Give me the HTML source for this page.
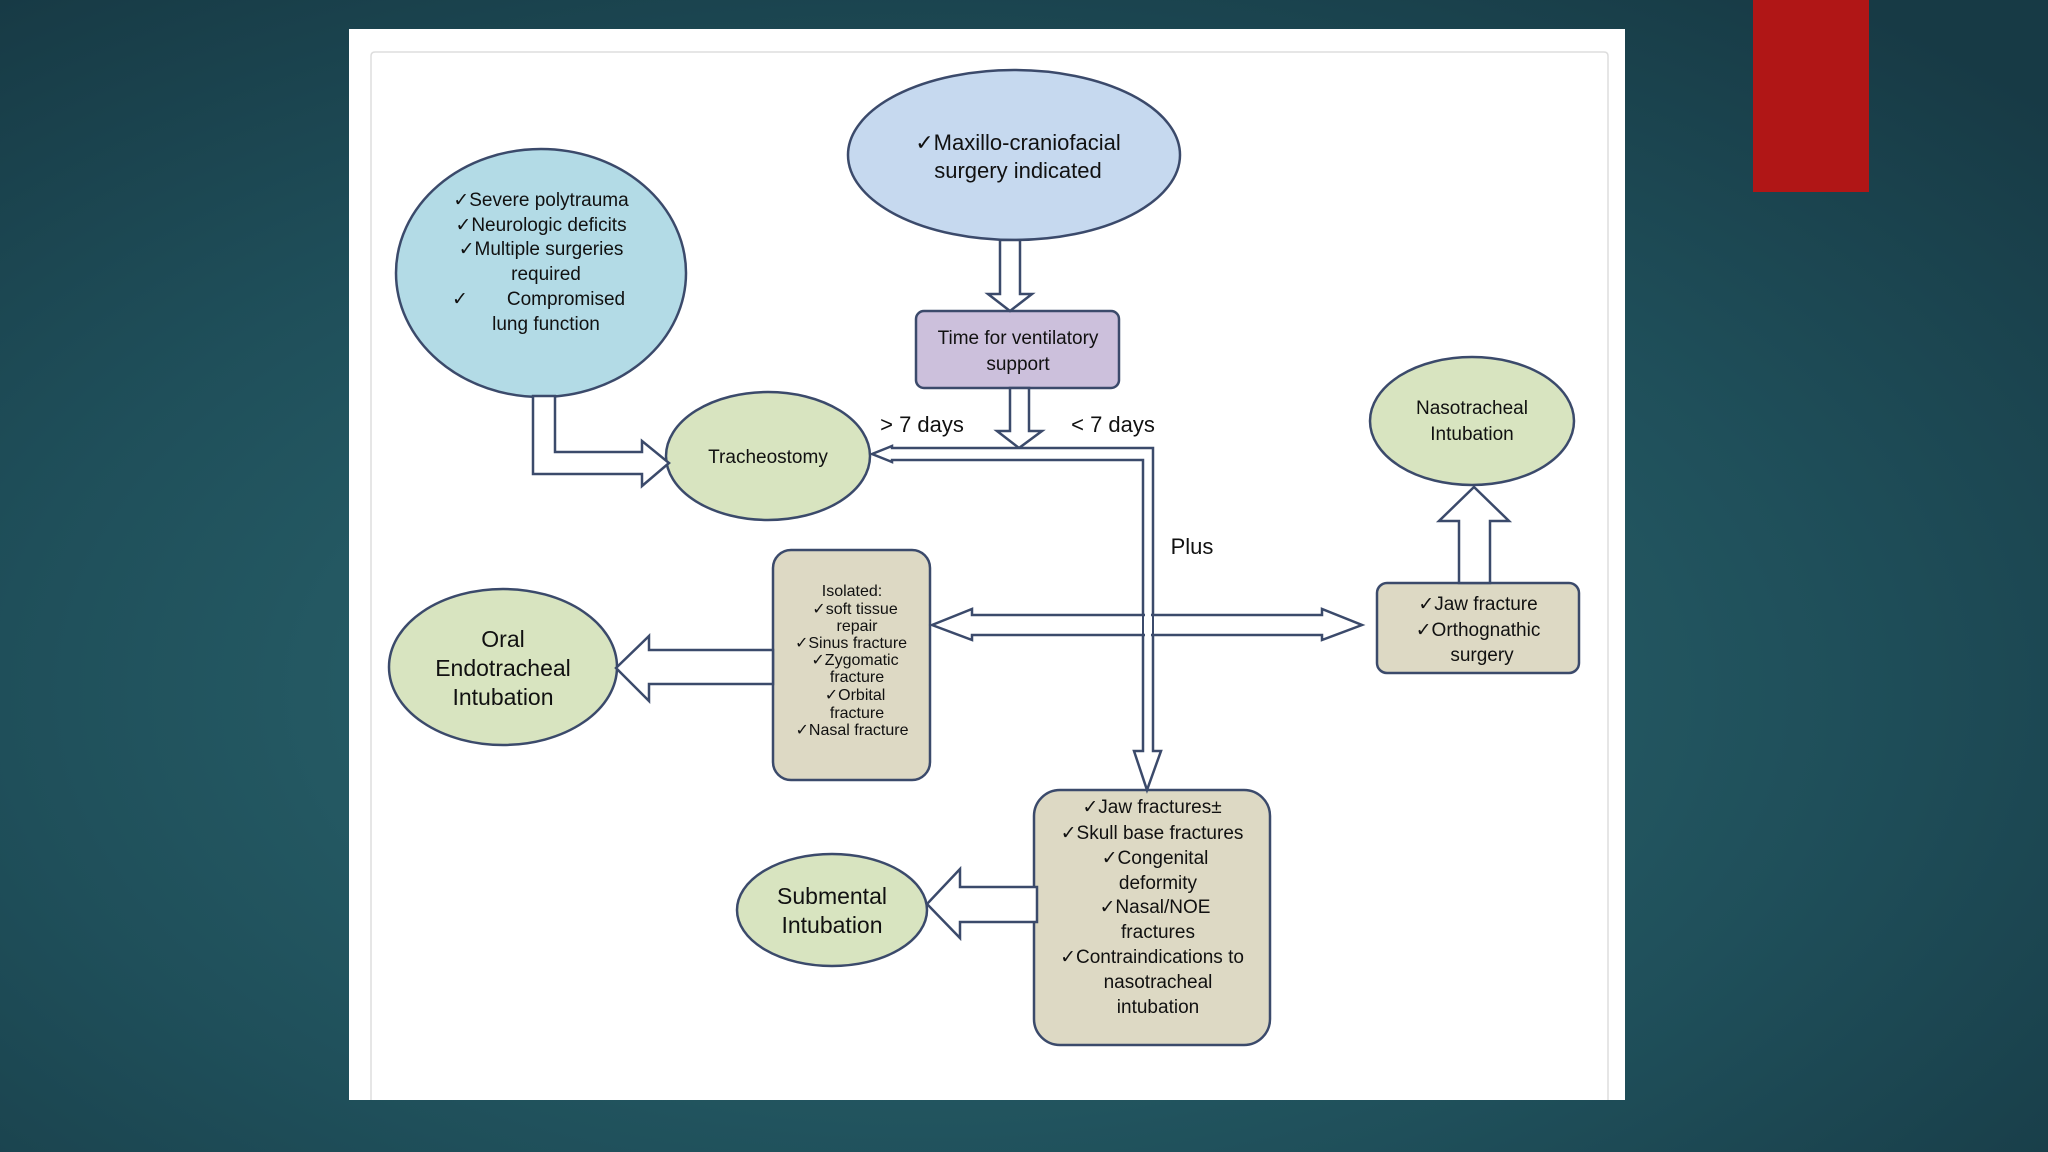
<!DOCTYPE html>
<html><head><meta charset="utf-8"><style>
html,body{margin:0;padding:0;width:2048px;height:1152px;overflow:hidden;background:#1d4650}
svg{display:block}
text{font-family:"Liberation Sans",sans-serif;fill:#111;text-anchor:middle}
</style></head><body>
<svg width="2048" height="1152" viewBox="0 0 2048 1152">
<defs>
<radialGradient id="bg" cx="45%" cy="60%" r="75%">
<stop offset="0" stop-color="#2d6a72"/><stop offset="0.6" stop-color="#1f4f5a"/><stop offset="1" stop-color="#173a45"/>
</radialGradient>
</defs>
<rect width="2048" height="1152" fill="url(#bg)"/>
<rect x="1753" y="0" width="116" height="192" fill="#b01616"/>
<rect x="349" y="29" width="1276" height="1071" fill="#fff"/>
<path d="M371,1100 L371,56 Q371,52 375,52 L1604,52 Q1608,52 1608,56 L1608,1100" fill="#fff" stroke="#ddd" stroke-width="1.5"/>
<g stroke="#3b4a6b" stroke-width="2.5">
<ellipse cx="1014" cy="155" rx="166" ry="85" fill="#c6d9ef"/>
<ellipse cx="541" cy="273" rx="145" ry="124" fill="#b3dbe6"/>
<rect x="916" y="311" width="203" height="77" rx="8" fill="#ccc0dc"/>
<ellipse cx="768" cy="456" rx="102" ry="64" fill="#d8e4c0"/>
<ellipse cx="1472" cy="421" rx="102" ry="64" fill="#d8e4c0"/>
<rect x="1377" y="583" width="202" height="90" rx="10" fill="#ddd9c4"/>
<rect x="773" y="550" width="157" height="230" rx="18" fill="#ddd9c4"/>
<ellipse cx="503" cy="667" rx="114" ry="78" fill="#d8e4c0"/>
<rect x="1034" y="790" width="236" height="255" rx="26" fill="#ddd9c4"/>
<ellipse cx="832" cy="910" rx="95" ry="56" fill="#d8e4c0"/>
</g>
<g fill="#fff" stroke="#3b4a6b" stroke-width="2.5" stroke-linejoin="miter">
<polygon points="1000,240 1020,240 1020,294 1032,294 1010,311 988,294 1000,294"/>
<polygon points="1010,388 1029,388 1029,431 1042,431 1019,448 997,431 1010,431"/>
<polygon points="533,396 555,396 555,452 642,452 642,441 669,463 642,486 642,474 533,474"/>
<polygon points="872,454 892,446 892,448 1153,448 1153,751 1161,751 1147,790 1134,751 1143,751 1143,460 892,460 892,462"/>
<polygon points="932,625 972,609 972,615 1322,615 1322,609 1362,625 1322,640 1322,635 972,635 972,640"/>
<line x1="1148" y1="612" x2="1148" y2="638" stroke="#fff" stroke-width="6"/>
<line x1="1143" y1="615" x2="1143" y2="635" stroke="#3b4a6b" stroke-width="2"/>
<line x1="1153" y1="615" x2="1153" y2="635" stroke="#3b4a6b" stroke-width="2"/>
<polygon points="1459,583 1459,521 1439,521 1474,487 1509,521 1490,521 1490,583"/>
<polygon points="773,650 649,650 649,636 616,668 649,701 649,684 773,684"/>
<polygon points="1037,887 960,887 960,869 927,904 960,938 960,922 1037,922"/>
</g>
<g font-size="22">
<text x="1018" y="150">✓Maxillo-craniofacial</text>
<text x="1018" y="178">surgery indicated</text>
</g>
<g font-size="19">
<text x="541" y="206">✓Severe polytrauma</text>
<text x="541" y="231">✓Neurologic deficits</text>
<text x="541" y="255">✓Multiple surgeries</text>
<text x="546" y="280">required</text>
<text x="546" y="305"><tspan x="460">✓</tspan><tspan x="566">Compromised</tspan></text>
<text x="546" y="330">lung function</text>
<text x="1018" y="344">Time for ventilatory</text>
<text x="1018" y="370">support</text>
<text x="768" y="463">Tracheostomy</text>
<text x="1472" y="414">Nasotracheal</text>
<text x="1472" y="440">Intubation</text>
<text x="1478" y="610">✓Jaw fracture</text>
<text x="1478" y="636">✓Orthognathic</text>
<text x="1482" y="661">surgery</text>
</g>
<g font-size="22">
<text x="922" y="432">&gt; 7 days</text>
<text x="1113" y="432">&lt; 7 days</text>
<text x="1192" y="554">Plus</text>
</g>
<g font-size="16">
<text x="852" y="596">Isolated:</text>
<text x="855" y="614">✓soft tissue</text>
<text x="857" y="631">repair</text>
<text x="851" y="648">✓Sinus fracture</text>
<text x="855" y="665">✓Zygomatic</text>
<text x="857" y="682">fracture</text>
<text x="855" y="700">✓Orbital</text>
<text x="857" y="718">fracture</text>
<text x="852" y="735">✓Nasal fracture</text>
</g>
<g font-size="23">
<text x="503" y="647">Oral</text>
<text x="503" y="676">Endotracheal</text>
<text x="503" y="705">Intubation</text>
<text x="832" y="904">Submental</text>
<text x="832" y="933">Intubation</text>
</g>
<g font-size="19">
<text x="1152" y="813">✓Jaw fractures±</text>
<text x="1152" y="839">✓Skull base fractures</text>
<text x="1155" y="864">✓Congenital</text>
<text x="1158" y="889">deformity</text>
<text x="1155" y="913">✓Nasal/NOE</text>
<text x="1158" y="938">fractures</text>
<text x="1152" y="963">✓Contraindications to</text>
<text x="1158" y="988">nasotracheal</text>
<text x="1158" y="1013">intubation</text>
</g>
</svg>
</body></html>
